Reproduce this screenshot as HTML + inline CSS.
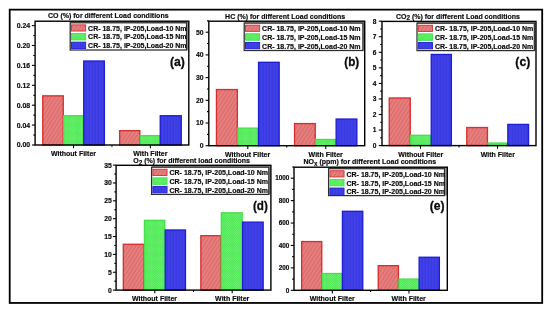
<!DOCTYPE html>
<html lang="en"><head><meta charset="utf-8"><title>Emissions for different load conditions</title>
<style>html,body{margin:0;padding:0;background:#fff}body{width:550px;height:313px;overflow:hidden}svg{display:block;filter:blur(.35px)}.t{stroke:#0c0c0c;stroke-width:.18px;stroke-linejoin:round}</style>
</head><body>
<svg width="550" height="313" viewBox="0 0 550 313" font-family="'Liberation Sans', Arial, sans-serif" font-weight="bold" fill="#0c0c0c">
<defs>
<pattern id="pr" width="3.2" height="3.2" patternUnits="userSpaceOnUse" patternTransform="rotate(-58)"><rect width="3.2" height="3.2" fill="#e07070"/><rect width="3.2" height="1.2" fill="#e68584"/></pattern>
<pattern id="pg" width="1.6" height="1.6" patternUnits="userSpaceOnUse" patternTransform="rotate(45)"><rect width="1.6" height="1.6" fill="#54eb5a"/><rect width="0.7" height="0.7" fill="#80f386"/></pattern>
<pattern id="pb" width="1.5" height="4" patternUnits="userSpaceOnUse"><rect width="1.5" height="4" fill="#3838e2"/><rect width="0.6" height="4" fill="#4646ea"/></pattern>
</defs>
<rect width="550" height="313" fill="#fff"/>
<rect x="9.7" y="9.65" width="532.5" height="293.3" fill="none" stroke="#000" stroke-width="1.8"/>
<rect x="70.20" y="21.20" width="118.60" height="28.80" fill="#999"/>
<rect x="42.75" y="95.85" width="20.50" height="49.15" fill="url(#pr)" stroke="#d53030" stroke-width="1.35"/>
<rect x="63.75" y="115.75" width="19.50" height="29.25" fill="url(#pg)" stroke="#45e04c" stroke-width="1.35"/>
<rect x="83.75" y="61.02" width="20.60" height="83.97" fill="url(#pb)" stroke="#1f1fd2" stroke-width="1.35"/>
<rect x="119.65" y="130.67" width="20.20" height="14.33" fill="url(#pr)" stroke="#d53030" stroke-width="1.35"/>
<rect x="140.35" y="135.65" width="19.40" height="9.35" fill="url(#pg)" stroke="#45e04c" stroke-width="1.35"/>
<rect x="160.25" y="115.75" width="21.00" height="29.25" fill="url(#pb)" stroke="#1f1fd2" stroke-width="1.35"/>
<rect x="35.10" y="21.20" width="153.70" height="123.80" fill="none" stroke="#000" stroke-width="1.4"/>
<line x1="35.10" x2="31.90" y1="145.00" y2="145.00" stroke="#000" stroke-width="1.1"/>
<text x="30.10" y="147.46" font-size="6.9" text-anchor="end" class="t">0.00</text>
<line x1="35.10" x2="33.30" y1="135.05" y2="135.05" stroke="#000" stroke-width="1.1"/>
<line x1="35.10" x2="31.90" y1="125.10" y2="125.10" stroke="#000" stroke-width="1.1"/>
<text x="30.10" y="127.56" font-size="6.9" text-anchor="end" class="t">0.04</text>
<line x1="35.10" x2="33.30" y1="115.15" y2="115.15" stroke="#000" stroke-width="1.1"/>
<line x1="35.10" x2="31.90" y1="105.20" y2="105.20" stroke="#000" stroke-width="1.1"/>
<text x="30.10" y="107.66" font-size="6.9" text-anchor="end" class="t">0.08</text>
<line x1="35.10" x2="33.30" y1="95.25" y2="95.25" stroke="#000" stroke-width="1.1"/>
<line x1="35.10" x2="31.90" y1="85.30" y2="85.30" stroke="#000" stroke-width="1.1"/>
<text x="30.10" y="87.76" font-size="6.9" text-anchor="end" class="t">0.12</text>
<line x1="35.10" x2="33.30" y1="75.35" y2="75.35" stroke="#000" stroke-width="1.1"/>
<line x1="35.10" x2="31.90" y1="65.40" y2="65.40" stroke="#000" stroke-width="1.1"/>
<text x="30.10" y="67.86" font-size="6.9" text-anchor="end" class="t">0.16</text>
<line x1="35.10" x2="33.30" y1="55.45" y2="55.45" stroke="#000" stroke-width="1.1"/>
<line x1="35.10" x2="31.90" y1="45.50" y2="45.50" stroke="#000" stroke-width="1.1"/>
<text x="30.10" y="47.96" font-size="6.9" text-anchor="end" class="t">0.20</text>
<line x1="35.10" x2="33.30" y1="35.55" y2="35.55" stroke="#000" stroke-width="1.1"/>
<line x1="35.10" x2="31.90" y1="25.60" y2="25.60" stroke="#000" stroke-width="1.1"/>
<text x="30.10" y="28.06" font-size="6.9" text-anchor="end" class="t">0.24</text>
<line x1="73.53" x2="73.53" y1="145.00" y2="148.20" stroke="#000" stroke-width="1.1"/>
<line x1="111.95" x2="111.95" y1="145.00" y2="146.80" stroke="#000" stroke-width="1.1"/>
<line x1="150.38" x2="150.38" y1="145.00" y2="148.20" stroke="#000" stroke-width="1.1"/>
<text x="73.50" y="155.90" font-size="7" text-anchor="middle" class="t">Without Filter</text>
<text x="150.40" y="156.00" font-size="7" text-anchor="middle" class="t">With Filter</text>
<text x="48.00" y="18.30" font-size="7" text-anchor="start" class="t">CO (%) for different Load conditions</text>
<rect x="70.20" y="22.80" width="116.30" height="27.20" fill="#fff" stroke="#2e2e2e" stroke-width="1.25"/>
<rect x="71.45" y="24.85" width="14.20" height="6.20" fill="url(#pr)" stroke="#d53030" stroke-width="0.9"/>
<text x="88.10" y="30.50" font-size="7" text-anchor="start" class="t">CR- 18.75, IP-205,Load-10 Nm</text>
<rect x="71.45" y="33.45" width="14.20" height="6.50" fill="url(#pg)" stroke="#45e04c" stroke-width="0.9"/>
<text x="88.10" y="39.20" font-size="7" text-anchor="start" class="t">CR- 18.75, IP-205,Load-15 Nm</text>
<rect x="71.45" y="42.15" width="14.20" height="6.30" fill="url(#pb)" stroke="#1f1fd2" stroke-width="0.9"/>
<text x="88.10" y="47.71" font-size="7" text-anchor="start" class="t">CR- 18.75, IP-205,Load-20 Nm</text>
<text x="177.40" y="65.95" font-size="12.6" text-anchor="middle" class="t" textLength="14.90" lengthAdjust="spacingAndGlyphs" style="stroke-width:.3px">(a)</text>
<rect x="244.20" y="21.20" width="120.50" height="29.30" fill="#999"/>
<rect x="216.45" y="89.55" width="20.90" height="56.15" fill="url(#pr)" stroke="#d53030" stroke-width="1.35"/>
<rect x="237.85" y="128.14" width="20.20" height="17.56" fill="url(#pg)" stroke="#45e04c" stroke-width="1.35"/>
<rect x="258.55" y="62.31" width="20.60" height="83.39" fill="url(#pb)" stroke="#1f1fd2" stroke-width="1.35"/>
<rect x="294.55" y="123.60" width="20.70" height="22.10" fill="url(#pr)" stroke="#d53030" stroke-width="1.35"/>
<rect x="315.75" y="139.49" width="19.90" height="6.21" fill="url(#pg)" stroke="#45e04c" stroke-width="1.35"/>
<rect x="336.15" y="119.06" width="20.70" height="26.64" fill="url(#pb)" stroke="#1f1fd2" stroke-width="1.35"/>
<rect x="208.80" y="21.20" width="155.90" height="124.50" fill="none" stroke="#000" stroke-width="1.4"/>
<line x1="208.80" x2="205.60" y1="145.70" y2="145.70" stroke="#000" stroke-width="1.1"/>
<text x="203.60" y="148.13" font-size="6.8" text-anchor="end" class="t">0</text>
<line x1="208.80" x2="207.00" y1="134.35" y2="134.35" stroke="#000" stroke-width="1.1"/>
<line x1="208.80" x2="205.60" y1="123.00" y2="123.00" stroke="#000" stroke-width="1.1"/>
<text x="203.60" y="125.43" font-size="6.8" text-anchor="end" class="t">10</text>
<line x1="208.80" x2="207.00" y1="111.65" y2="111.65" stroke="#000" stroke-width="1.1"/>
<line x1="208.80" x2="205.60" y1="100.30" y2="100.30" stroke="#000" stroke-width="1.1"/>
<text x="203.60" y="102.73" font-size="6.8" text-anchor="end" class="t">20</text>
<line x1="208.80" x2="207.00" y1="88.95" y2="88.95" stroke="#000" stroke-width="1.1"/>
<line x1="208.80" x2="205.60" y1="77.60" y2="77.60" stroke="#000" stroke-width="1.1"/>
<text x="203.60" y="80.03" font-size="6.8" text-anchor="end" class="t">30</text>
<line x1="208.80" x2="207.00" y1="66.25" y2="66.25" stroke="#000" stroke-width="1.1"/>
<line x1="208.80" x2="205.60" y1="54.90" y2="54.90" stroke="#000" stroke-width="1.1"/>
<text x="203.60" y="57.33" font-size="6.8" text-anchor="end" class="t">40</text>
<line x1="208.80" x2="207.00" y1="43.55" y2="43.55" stroke="#000" stroke-width="1.1"/>
<line x1="208.80" x2="205.60" y1="32.20" y2="32.20" stroke="#000" stroke-width="1.1"/>
<text x="203.60" y="34.63" font-size="6.8" text-anchor="end" class="t">50</text>
<line x1="208.80" x2="207.00" y1="20.85" y2="20.85" stroke="#000" stroke-width="1.1"/>
<line x1="247.78" x2="247.78" y1="145.70" y2="148.90" stroke="#000" stroke-width="1.1"/>
<line x1="286.75" x2="286.75" y1="145.70" y2="147.50" stroke="#000" stroke-width="1.1"/>
<line x1="325.73" x2="325.73" y1="145.70" y2="148.90" stroke="#000" stroke-width="1.1"/>
<text x="247.60" y="156.90" font-size="7" text-anchor="middle" class="t">Without Filter</text>
<text x="325.70" y="156.90" font-size="7" text-anchor="middle" class="t">With Filter</text>
<text x="225.10" y="18.60" font-size="7" text-anchor="start" class="t">HC (%) for different Load conditions</text>
<rect x="244.20" y="23.10" width="118.70" height="27.40" fill="#fff" stroke="#2e2e2e" stroke-width="1.25"/>
<rect x="245.45" y="25.15" width="14.20" height="6.20" fill="url(#pr)" stroke="#d53030" stroke-width="0.9"/>
<text x="262.10" y="30.95" font-size="7" text-anchor="start" class="t">CR- 18.75, IP-205,Load-10 Nm</text>
<rect x="245.45" y="33.75" width="14.20" height="6.50" fill="url(#pg)" stroke="#45e04c" stroke-width="0.9"/>
<text x="262.10" y="39.90" font-size="7" text-anchor="start" class="t">CR- 18.75, IP-205,Load-15 Nm</text>
<rect x="245.45" y="42.45" width="14.20" height="6.30" fill="url(#pb)" stroke="#1f1fd2" stroke-width="0.9"/>
<text x="262.10" y="48.65" font-size="7" text-anchor="start" class="t">CR- 18.75, IP-205,Load-20 Nm</text>
<text x="351.80" y="65.95" font-size="12.6" text-anchor="middle" class="t" textLength="14.90" lengthAdjust="spacingAndGlyphs" style="stroke-width:.3px">(b)</text>
<rect x="417.00" y="21.40" width="119.00" height="29.20" fill="#999"/>
<rect x="389.25" y="97.99" width="21.00" height="47.61" fill="url(#pr)" stroke="#d53030" stroke-width="1.35"/>
<rect x="410.75" y="135.31" width="20.00" height="10.28" fill="url(#pg)" stroke="#45e04c" stroke-width="1.35"/>
<rect x="431.25" y="54.45" width="20.10" height="91.15" fill="url(#pb)" stroke="#1f1fd2" stroke-width="1.35"/>
<rect x="466.75" y="127.54" width="20.70" height="18.06" fill="url(#pr)" stroke="#d53030" stroke-width="1.35"/>
<rect x="487.95" y="143.09" width="19.40" height="2.51" fill="url(#pg)" stroke="#45e04c" stroke-width="1.35"/>
<rect x="507.85" y="124.43" width="20.70" height="21.17" fill="url(#pb)" stroke="#1f1fd2" stroke-width="1.35"/>
<rect x="382.00" y="21.40" width="154.00" height="124.20" fill="none" stroke="#000" stroke-width="1.4"/>
<line x1="382.00" x2="378.80" y1="145.60" y2="145.60" stroke="#000" stroke-width="1.1"/>
<text x="376.50" y="147.96" font-size="6.6" text-anchor="end" class="t">0</text>
<line x1="382.00" x2="380.20" y1="137.82" y2="137.82" stroke="#000" stroke-width="1.1"/>
<line x1="382.00" x2="378.80" y1="130.05" y2="130.05" stroke="#000" stroke-width="1.1"/>
<text x="376.50" y="132.41" font-size="6.6" text-anchor="end" class="t">1</text>
<line x1="382.00" x2="380.20" y1="122.27" y2="122.27" stroke="#000" stroke-width="1.1"/>
<line x1="382.00" x2="378.80" y1="114.50" y2="114.50" stroke="#000" stroke-width="1.1"/>
<text x="376.50" y="116.86" font-size="6.6" text-anchor="end" class="t">2</text>
<line x1="382.00" x2="380.20" y1="106.72" y2="106.72" stroke="#000" stroke-width="1.1"/>
<line x1="382.00" x2="378.80" y1="98.95" y2="98.95" stroke="#000" stroke-width="1.1"/>
<text x="376.50" y="101.31" font-size="6.6" text-anchor="end" class="t">3</text>
<line x1="382.00" x2="380.20" y1="91.17" y2="91.17" stroke="#000" stroke-width="1.1"/>
<line x1="382.00" x2="378.80" y1="83.40" y2="83.40" stroke="#000" stroke-width="1.1"/>
<text x="376.50" y="85.76" font-size="6.6" text-anchor="end" class="t">4</text>
<line x1="382.00" x2="380.20" y1="75.62" y2="75.62" stroke="#000" stroke-width="1.1"/>
<line x1="382.00" x2="378.80" y1="67.85" y2="67.85" stroke="#000" stroke-width="1.1"/>
<text x="376.50" y="70.21" font-size="6.6" text-anchor="end" class="t">5</text>
<line x1="382.00" x2="380.20" y1="60.07" y2="60.07" stroke="#000" stroke-width="1.1"/>
<line x1="382.00" x2="378.80" y1="52.30" y2="52.30" stroke="#000" stroke-width="1.1"/>
<text x="376.50" y="54.66" font-size="6.6" text-anchor="end" class="t">6</text>
<line x1="382.00" x2="380.20" y1="44.52" y2="44.52" stroke="#000" stroke-width="1.1"/>
<line x1="382.00" x2="378.80" y1="36.75" y2="36.75" stroke="#000" stroke-width="1.1"/>
<text x="376.50" y="39.11" font-size="6.6" text-anchor="end" class="t">7</text>
<line x1="382.00" x2="380.20" y1="28.97" y2="28.97" stroke="#000" stroke-width="1.1"/>
<line x1="382.00" x2="378.80" y1="21.20" y2="21.20" stroke="#000" stroke-width="1.1"/>
<text x="376.50" y="23.56" font-size="6.6" text-anchor="end" class="t">8</text>
<line x1="420.50" x2="420.50" y1="145.60" y2="148.80" stroke="#000" stroke-width="1.1"/>
<line x1="459.00" x2="459.00" y1="145.60" y2="147.40" stroke="#000" stroke-width="1.1"/>
<line x1="497.50" x2="497.50" y1="145.60" y2="148.80" stroke="#000" stroke-width="1.1"/>
<text x="420.70" y="156.70" font-size="7" text-anchor="middle" class="t">Without Filter</text>
<text x="497.80" y="156.70" font-size="7" text-anchor="middle" class="t">With Filter</text>
<text x="395.90" y="18.80" font-size="7" text-anchor="start" class="t">CO<tspan font-size="6.4" dy="1.5">2</tspan><tspan dy="-1.5"> (%) for different Load conditions</tspan></text>
<rect x="417.00" y="23.20" width="117.30" height="27.40" fill="#fff" stroke="#2e2e2e" stroke-width="1.25"/>
<rect x="418.25" y="25.25" width="14.20" height="6.20" fill="url(#pr)" stroke="#d53030" stroke-width="0.9"/>
<text x="434.90" y="31.05" font-size="7" text-anchor="start" class="t">CR- 18.75, IP-205,Load-10 Nm</text>
<rect x="418.25" y="33.85" width="14.20" height="6.50" fill="url(#pg)" stroke="#45e04c" stroke-width="0.9"/>
<text x="434.90" y="40.00" font-size="7" text-anchor="start" class="t">CR- 18.75, IP-205,Load-15 Nm</text>
<rect x="418.25" y="42.55" width="14.20" height="6.30" fill="url(#pb)" stroke="#1f1fd2" stroke-width="0.9"/>
<text x="434.90" y="48.75" font-size="7" text-anchor="start" class="t">CR- 18.75, IP-205,Load-20 Nm</text>
<text x="522.80" y="65.75" font-size="12.6" text-anchor="middle" class="t" textLength="14.90" lengthAdjust="spacingAndGlyphs" style="stroke-width:.3px">(c)</text>
<rect x="151.60" y="165.30" width="119.30" height="29.10" fill="#999"/>
<rect x="123.35" y="244.28" width="20.60" height="45.82" fill="url(#pr)" stroke="#d53030" stroke-width="1.35"/>
<rect x="144.45" y="220.35" width="20.30" height="69.75" fill="url(#pg)" stroke="#45e04c" stroke-width="1.35"/>
<rect x="165.25" y="229.99" width="20.20" height="60.11" fill="url(#pb)" stroke="#1f1fd2" stroke-width="1.35"/>
<rect x="200.85" y="235.71" width="20.00" height="54.39" fill="url(#pr)" stroke="#d53030" stroke-width="1.35"/>
<rect x="221.35" y="212.85" width="20.80" height="77.25" fill="url(#pg)" stroke="#45e04c" stroke-width="1.35"/>
<rect x="242.65" y="222.14" width="20.50" height="67.96" fill="url(#pb)" stroke="#1f1fd2" stroke-width="1.35"/>
<rect x="116.10" y="165.30" width="154.80" height="124.80" fill="none" stroke="#000" stroke-width="1.4"/>
<line x1="116.10" x2="112.90" y1="290.10" y2="290.10" stroke="#000" stroke-width="1.1"/>
<text x="111.80" y="292.53" font-size="6.8" text-anchor="end" class="t">0</text>
<line x1="116.10" x2="114.30" y1="281.17" y2="281.17" stroke="#000" stroke-width="1.1"/>
<line x1="116.10" x2="112.90" y1="272.25" y2="272.25" stroke="#000" stroke-width="1.1"/>
<text x="111.80" y="274.67" font-size="6.8" text-anchor="end" class="t">5</text>
<line x1="116.10" x2="114.30" y1="263.32" y2="263.32" stroke="#000" stroke-width="1.1"/>
<line x1="116.10" x2="112.90" y1="254.39" y2="254.39" stroke="#000" stroke-width="1.1"/>
<text x="111.80" y="256.82" font-size="6.8" text-anchor="end" class="t">10</text>
<line x1="116.10" x2="114.30" y1="245.46" y2="245.46" stroke="#000" stroke-width="1.1"/>
<line x1="116.10" x2="112.90" y1="236.54" y2="236.54" stroke="#000" stroke-width="1.1"/>
<text x="111.80" y="238.96" font-size="6.8" text-anchor="end" class="t">15</text>
<line x1="116.10" x2="114.30" y1="227.61" y2="227.61" stroke="#000" stroke-width="1.1"/>
<line x1="116.10" x2="112.90" y1="218.68" y2="218.68" stroke="#000" stroke-width="1.1"/>
<text x="111.80" y="221.11" font-size="6.8" text-anchor="end" class="t">20</text>
<line x1="116.10" x2="114.30" y1="209.75" y2="209.75" stroke="#000" stroke-width="1.1"/>
<line x1="116.10" x2="112.90" y1="200.83" y2="200.83" stroke="#000" stroke-width="1.1"/>
<text x="111.80" y="203.25" font-size="6.8" text-anchor="end" class="t">25</text>
<line x1="116.10" x2="114.30" y1="191.90" y2="191.90" stroke="#000" stroke-width="1.1"/>
<line x1="116.10" x2="112.90" y1="182.97" y2="182.97" stroke="#000" stroke-width="1.1"/>
<text x="111.80" y="185.40" font-size="6.8" text-anchor="end" class="t">30</text>
<line x1="116.10" x2="114.30" y1="174.04" y2="174.04" stroke="#000" stroke-width="1.1"/>
<line x1="116.10" x2="112.90" y1="165.12" y2="165.12" stroke="#000" stroke-width="1.1"/>
<text x="111.80" y="167.54" font-size="6.8" text-anchor="end" class="t">35</text>
<line x1="154.80" x2="154.80" y1="290.10" y2="293.30" stroke="#000" stroke-width="1.1"/>
<line x1="193.50" x2="193.50" y1="290.10" y2="291.90" stroke="#000" stroke-width="1.1"/>
<line x1="232.20" x2="232.20" y1="290.10" y2="293.30" stroke="#000" stroke-width="1.1"/>
<text x="154.50" y="301.40" font-size="7" text-anchor="middle" class="t">Without Filter</text>
<text x="232.20" y="301.30" font-size="7" text-anchor="middle" class="t">With Filter</text>
<text x="133.20" y="163.10" font-size="7" text-anchor="start" class="t">O<tspan font-size="6.4" dy="1.5">2</tspan><tspan dy="-1.5"> (%) for different load conditions</tspan></text>
<rect x="151.60" y="167.20" width="117.20" height="27.20" fill="#fff" stroke="#2e2e2e" stroke-width="1.25"/>
<rect x="152.85" y="169.25" width="14.20" height="6.20" fill="url(#pr)" stroke="#d53030" stroke-width="0.9"/>
<text x="169.50" y="175.05" font-size="7" text-anchor="start" class="t">CR- 18.75, IP-205,Load-10 Nm</text>
<rect x="152.85" y="177.85" width="14.20" height="6.50" fill="url(#pg)" stroke="#45e04c" stroke-width="0.9"/>
<text x="169.50" y="184.00" font-size="7" text-anchor="start" class="t">CR- 18.75, IP-205,Load-15 Nm</text>
<rect x="152.85" y="186.55" width="14.20" height="6.30" fill="url(#pb)" stroke="#1f1fd2" stroke-width="0.9"/>
<text x="169.50" y="192.75" font-size="7" text-anchor="start" class="t">CR- 18.75, IP-205,Load-20 Nm</text>
<text x="260.40" y="210.05" font-size="12.6" text-anchor="middle" class="t" textLength="14.90" lengthAdjust="spacingAndGlyphs" style="stroke-width:.3px">(d)</text>
<rect x="328.60" y="167.20" width="118.70" height="28.40" fill="#999"/>
<rect x="301.65" y="241.58" width="20.10" height="48.72" fill="url(#pr)" stroke="#d53030" stroke-width="1.35"/>
<rect x="322.25" y="273.52" width="19.70" height="16.78" fill="url(#pg)" stroke="#45e04c" stroke-width="1.35"/>
<rect x="342.45" y="211.31" width="20.30" height="78.99" fill="url(#pb)" stroke="#1f1fd2" stroke-width="1.35"/>
<rect x="378.25" y="265.68" width="20.20" height="24.62" fill="url(#pr)" stroke="#d53030" stroke-width="1.35"/>
<rect x="398.95" y="279.13" width="19.70" height="11.17" fill="url(#pg)" stroke="#45e04c" stroke-width="1.35"/>
<rect x="419.15" y="257.27" width="20.20" height="33.03" fill="url(#pb)" stroke="#1f1fd2" stroke-width="1.35"/>
<rect x="294.00" y="167.20" width="153.30" height="123.10" fill="none" stroke="#000" stroke-width="1.4"/>
<line x1="294.00" x2="290.80" y1="290.30" y2="290.30" stroke="#000" stroke-width="1.1"/>
<text x="289.40" y="292.59" font-size="6.4" text-anchor="end" class="t">0</text>
<line x1="294.00" x2="292.20" y1="279.09" y2="279.09" stroke="#000" stroke-width="1.1"/>
<line x1="294.00" x2="290.80" y1="267.88" y2="267.88" stroke="#000" stroke-width="1.1"/>
<text x="289.40" y="270.17" font-size="6.4" text-anchor="end" class="t">200</text>
<line x1="294.00" x2="292.20" y1="256.67" y2="256.67" stroke="#000" stroke-width="1.1"/>
<line x1="294.00" x2="290.80" y1="245.46" y2="245.46" stroke="#000" stroke-width="1.1"/>
<text x="289.40" y="247.75" font-size="6.4" text-anchor="end" class="t">400</text>
<line x1="294.00" x2="292.20" y1="234.25" y2="234.25" stroke="#000" stroke-width="1.1"/>
<line x1="294.00" x2="290.80" y1="223.04" y2="223.04" stroke="#000" stroke-width="1.1"/>
<text x="289.40" y="225.33" font-size="6.4" text-anchor="end" class="t">600</text>
<line x1="294.00" x2="292.20" y1="211.83" y2="211.83" stroke="#000" stroke-width="1.1"/>
<line x1="294.00" x2="290.80" y1="200.62" y2="200.62" stroke="#000" stroke-width="1.1"/>
<text x="289.40" y="202.91" font-size="6.4" text-anchor="end" class="t">800</text>
<line x1="294.00" x2="292.20" y1="189.41" y2="189.41" stroke="#000" stroke-width="1.1"/>
<line x1="294.00" x2="290.80" y1="178.20" y2="178.20" stroke="#000" stroke-width="1.1"/>
<text x="289.40" y="180.49" font-size="6.4" text-anchor="end" class="t">1000</text>
<line x1="294.00" x2="292.20" y1="166.99" y2="166.99" stroke="#000" stroke-width="1.1"/>
<line x1="332.32" x2="332.32" y1="290.30" y2="293.50" stroke="#000" stroke-width="1.1"/>
<line x1="370.65" x2="370.65" y1="290.30" y2="292.10" stroke="#000" stroke-width="1.1"/>
<line x1="408.98" x2="408.98" y1="290.30" y2="293.50" stroke="#000" stroke-width="1.1"/>
<text x="332.30" y="301.40" font-size="7" text-anchor="middle" class="t">Without Filter</text>
<text x="408.70" y="301.30" font-size="7" text-anchor="middle" class="t">With Filter</text>
<text x="303.40" y="164.00" font-size="7" text-anchor="start" class="t">NO<tspan font-size="6.4" dy="1.5">x</tspan><tspan dy="-1.5"> (ppm) for different Load conditions</tspan></text>
<rect x="328.60" y="168.70" width="115.90" height="26.90" fill="#fff" stroke="#2e2e2e" stroke-width="1.25"/>
<rect x="329.85" y="170.75" width="14.20" height="6.20" fill="url(#pr)" stroke="#d53030" stroke-width="0.9"/>
<text x="346.50" y="176.55" font-size="7" text-anchor="start" class="t">CR- 18.75, IP-205,Load-10 Nm</text>
<rect x="329.85" y="179.35" width="14.20" height="6.50" fill="url(#pg)" stroke="#45e04c" stroke-width="0.9"/>
<text x="346.50" y="185.50" font-size="7" text-anchor="start" class="t">CR- 18.75, IP-205,Load-15 Nm</text>
<rect x="329.85" y="188.05" width="14.20" height="6.30" fill="url(#pb)" stroke="#1f1fd2" stroke-width="0.9"/>
<text x="346.50" y="194.25" font-size="7" text-anchor="start" class="t">CR- 18.75, IP-205,Load-20 Nm</text>
<text x="437.20" y="210.05" font-size="12.6" text-anchor="middle" class="t" textLength="14.90" lengthAdjust="spacingAndGlyphs" style="stroke-width:.3px">(e)</text>
</svg>
</body></html>
